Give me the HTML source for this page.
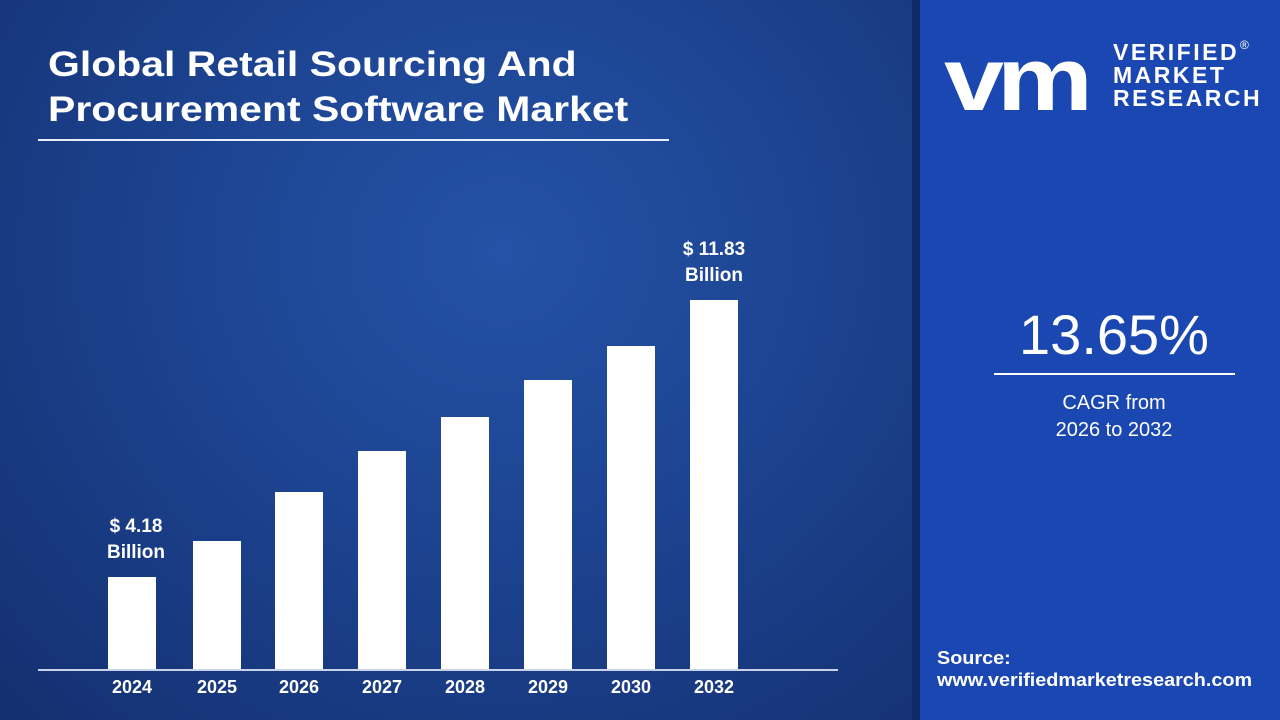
<!DOCTYPE html><html><head><style>
body{margin:0;width:1280px;height:720px;overflow:hidden;font-family:"Liberation Sans",sans-serif;position:relative;background:#173b86}
.l{position:absolute;left:0;top:0;width:914px;height:720px;background:radial-gradient(ellipse at 55% 35%,#2552a6 0%,#1d4593 40%,#142f70 100%)}
.r{position:absolute;left:920px;top:0;width:360px;height:720px;background:#1a47b2}
.sep{position:absolute;left:912px;top:0;width:8px;height:720px;background:#0f2a66}
.t{position:absolute;left:48px;top:42px;color:#fff;font-size:35px;font-weight:bold;line-height:45px;transform:scaleX(1.17);transform-origin:0 0;white-space:nowrap}
.hl{position:absolute;left:38px;top:139px;width:631px;height:2px;background:#e8eef8}
.b{position:absolute;background:#fff;width:48px;bottom:50px}
.x{position:absolute;top:677px;color:#fff;font-weight:bold;font-size:18px;width:80px;text-align:center}
.v{position:absolute;color:#fff;font-weight:bold;font-size:19px;text-align:center;width:120px;line-height:26px}
</style></head><body>
<div class="l"></div><div class="sep"></div><div class="r"></div>
<div class="t">Global Retail Sourcing And<br>Procurement Software Market</div>
<div class="hl"></div>
<div class="b" style="left:108px;height:93px"></div>
<div class="b" style="left:193px;height:129px"></div>
<div class="b" style="left:275px;height:178px"></div>
<div class="b" style="left:358px;height:219px"></div>
<div class="b" style="left:441px;height:253px"></div>
<div class="b" style="left:524px;height:290px"></div>
<div class="b" style="left:607px;height:324px"></div>
<div class="b" style="left:690px;height:370px"></div>
<div style="position:absolute;left:38px;top:669px;width:800px;height:2px;background:#c8d3ea"></div>
<div class="x" style="left:92px">2024</div><div class="x" style="left:177px">2025</div><div class="x" style="left:259px">2026</div><div class="x" style="left:342px">2027</div><div class="x" style="left:425px">2028</div><div class="x" style="left:508px">2029</div><div class="x" style="left:591px">2030</div><div class="x" style="left:674px">2032</div>
<div class="v" style="left:76px;top:514px">$ 4.18<br>Billion</div>
<div class="v" style="left:654px;top:237px">$ 11.83<br>Billion</div>
<div style="position:absolute;left:944px;top:40px;color:#fff;font-size:90px;font-weight:bold;line-height:80px;letter-spacing:-6px;transform:scaleX(1.2);transform-origin:0 0">vm</div>
<div style="position:absolute;left:1113px;top:41px;color:#fff;font-size:23px;font-weight:bold;line-height:23px;letter-spacing:2.5px">VERIFIED<br>MARKET<br>RESEARCH</div>
<div style="position:absolute;left:1240px;top:38px;color:#fff;font-size:12px">®</div>
<div style="position:absolute;left:994px;top:302px;width:240px;text-align:center;color:#fff;font-size:56px">13.65%</div>
<div style="position:absolute;left:994px;top:373px;width:241px;height:2px;background:#fff"></div>
<div style="position:absolute;left:994px;top:390px;width:240px;text-align:center;color:#fff;font-size:20px;line-height:27px">CAGR from<br>2026 to 2032</div>
<div style="position:absolute;left:937px;top:647px;color:#fff;font-size:18px;font-weight:bold;line-height:22px;transform:scaleX(1.1);transform-origin:0 0;white-space:nowrap">Source:<br>www.verifiedmarketresearch.com</div>
</body></html>
